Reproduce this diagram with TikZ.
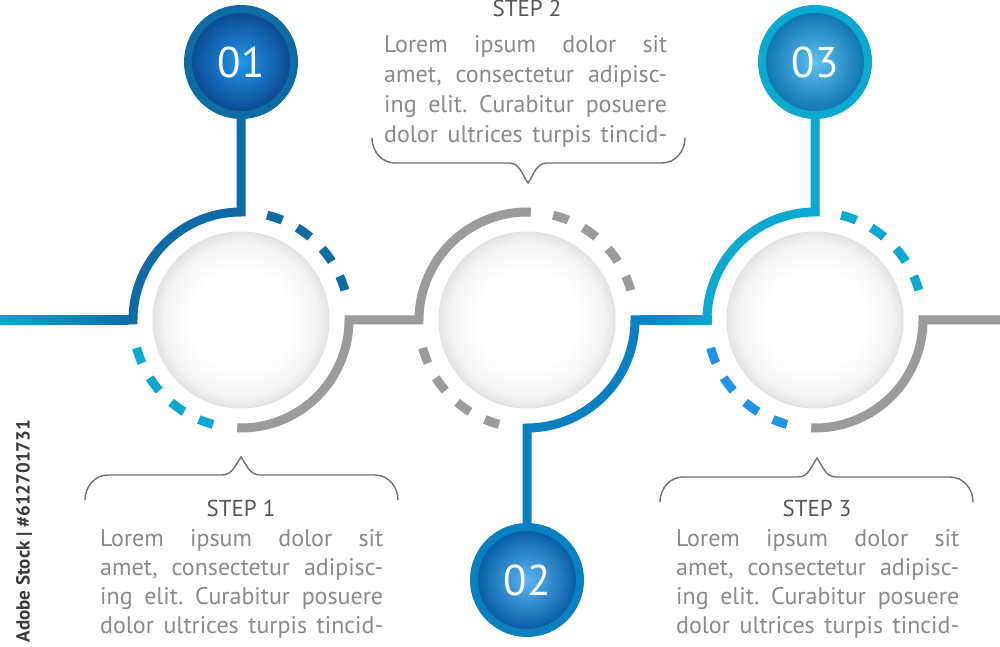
\documentclass[tikz,border=0pt]{standalone}
\usepackage{fontspec}
\setmainfont{PT Sans}
\usetikzlibrary{calc}
\frenchspacing
\definecolor{dkblue}{HTML}{0E6BA3}
\definecolor{cyanc}{HTML}{0BA8D0}
\definecolor{midblue}{HTML}{0A80C0}
\definecolor{brightblue}{HTML}{2192EA}
\definecolor{grayline}{HTML}{9B9B9B}
\definecolor{bracegray}{HTML}{707070}
\definecolor{titlegray}{HTML}{555555}
\definecolor{bodygray}{HTML}{8A8A8A}
\definecolor{wmgray}{HTML}{3A3A3A}
\definecolor{discedge}{HTML}{E2E2E2}
\definecolor{dA}{HTML}{F4F4F4}
\definecolor{dB}{HTML}{E4E4E4}
\definecolor{nAc}{HTML}{2196EE}
\definecolor{nAe}{HTML}{0C4C92}
\definecolor{nBc}{HTML}{5BB5F5}
\definecolor{nBe}{HTML}{0A60A6}
\definecolor{nCc}{HTML}{5EC0F0}
\definecolor{nCe}{HTML}{0F78B0}
\pgfdeclareradialshading{discshade}{\pgfpoint{0bp}{0bp}}{color(0bp)=(white); color(14bp)=(white); color(22bp)=(dA); color(25bp)=(dB); color(50bp)=(dB)}
\pgfdeclareradialshading{numA}{\pgfpoint{0bp}{0bp}}{color(0bp)=(nAc); color(25bp)=(nAe); color(50bp)=(nAe)}
\pgfdeclareradialshading{numB}{\pgfpoint{0bp}{0bp}}{color(0bp)=(nBc); color(25bp)=(nBe); color(50bp)=(nBe)}
\pgfdeclareradialshading{numC}{\pgfpoint{0bp}{0bp}}{color(0bp)=(nCc); color(25bp)=(nCe); color(50bp)=(nCe)}
\newcommand\jline[1]{\makebox[283pt][s]{#1}}
\begin{document}
\begin{tikzpicture}[x=1pt,y=1pt,
  ln/.style={line width=9pt, line join=miter, line cap=butt},
  dsh/.style={line width=9pt, line cap=butt, dash pattern=on 16pt off 16.7pt},
  brace/.style={line width=1.4pt, draw=bracegray, line cap=round},
  title/.style={anchor=base, inner sep=0pt, text=titlegray, font=\fontsize{23}{27}\selectfont},
  body/.style={anchor=base west, inner sep=0pt, text=bodygray, font=\fontsize{24}{27}\selectfont},
  disc/.style={circle, minimum size=176pt, inner sep=0pt, shade, shading=discshade, draw=discedge, line width=1pt},
  numouter/.style={circle, minimum size=114pt, inner sep=0pt},
  numinner/.style={circle, minimum size=98pt, inner sep=0pt, shade, text=white, font=\fontsize{43}{43}\selectfont}
]
\fill[white] (0,0) rectangle (1000,647);
\useasboundingbox (0,0) rectangle (1000,647);

% centres
\coordinate (c1) at (241,327);
\coordinate (c2) at (527,327);
\coordinate (c3) at (815,327);
\coordinate (n1) at (241,585);
\coordinate (n2) at (527,67);
\coordinate (n3) at (815,585);
\coordinate (w) at (0,327);
\coordinate (e) at (1000,327);

% connectors
\draw[ln, draw=dkblue] (w) -- ($(c1)+(-108,0)$) arc[start angle=180, end angle=90, radius=108] -- (n1);
\shade[left color=cyanc, right color=dkblue] (0,322.5) rectangle (128.5,331.5);

\draw[ln, draw=grayline] ($(c1)+(268:108)$) arc[start angle=268, end angle=360, radius=108]
  -- ($(c2)+(-108,0)$) arc[start angle=180, end angle=88, radius=108];

\draw[ln, draw=midblue] (n2) -- ($(c2)+(0,-108)$) arc[start angle=270, end angle=360, radius=108]
  -- ($(c3)+(-103.5,0)$);
\draw[ln, draw=cyanc] ($(c3)+(-108,0)$) arc[start angle=180, end angle=90, radius=108] -- (n3);
\shade[left color=midblue, right color=cyanc] (639.5,322.5) rectangle (711.5,331.5);

\draw[ln, draw=grayline] ($(c3)+(268:108)$) arc[start angle=268, end angle=360, radius=108] -- (e);

% dashed arcs
\draw[dsh, draw=dkblue] ($(c1)+(76:108)$) arc[start angle=76, end angle=16, radius=108];
\draw[dsh, draw=cyanc] ($(c1)+(195:108)$) arc[start angle=195, end angle=255, radius=108];
\draw[dsh, draw=grayline] ($(c2)+(76:108)$) arc[start angle=76, end angle=16, radius=108];
\draw[dsh, draw=grayline] ($(c2)+(195:108)$) arc[start angle=195, end angle=255, radius=108];
\draw[dsh, draw=cyanc] ($(c3)+(76:108)$) arc[start angle=76, end angle=16, radius=108];
\draw[dsh, draw=brightblue] ($(c3)+(195:108)$) arc[start angle=195, end angle=255, radius=108];

% white discs
\node[disc] (d1) at (c1) {};
\node[disc] (d2) at (c2) {};
\node[disc] (d3) at (c3) {};

% number circles
\node[numouter, fill=dkblue] (n1o) at (n1) {};
\node[numinner, shading=numA] (n1i) at (n1) {01};
\node[numouter, fill=midblue] (n2o) at (n2) {};
\node[numinner, shading=numB] (n2i) at (n2) {02};
\node[numouter, fill=cyanc] (n3o) at (n3) {};
\node[numinner, shading=numC] (n3i) at (n3) {03};

% braces
\draw[brace] (85,147) to[out=90,in=180] (108,172) -- (222,172) to[out=0,in=-125] (241,190)
  to[out=-55,in=180] (260,172) -- (375,172) to[out=0,in=90] (398,147);
\draw[brace] (372,509) to[out=-90,in=180] (395,484) -- (509,484) to[out=0,in=125] (528,464)
  to[out=55,in=180] (547,484) -- (662,484) to[out=0,in=-90] (685,509);
\draw[brace] (660,145) to[out=90,in=180] (683,170) -- (798,170) to[out=0,in=-125] (817,189)
  to[out=-55,in=180] (836,170) -- (950,170) to[out=0,in=90] (973,145);

% step 1 text
\node[title] (t1) at (241,130) {STEP 1};
\node[body] (b1a) at (100,100) {\jline{Lorem ipsum dolor sit}};
\node[body] (b1b) at (100,71) {\jline{amet, consectetur adipisc-}};
\node[body] (b1c) at (100,42) {\jline{ing elit. Curabitur posuere}};
\node[body] (b1d) at (100,13) {\jline{dolor ultrices turpis tincid-}};

% step 2 text
\node[title] (t2) at (527,630) {STEP 2};
\node[body] (b2a) at (384,594) {\jline{Lorem ipsum dolor sit}};
\node[body] (b2b) at (384,564) {\jline{amet, consectetur adipisc-}};
\node[body] (b2c) at (384,534) {\jline{ing elit. Curabitur posuere}};
\node[body] (b2d) at (384,504) {\jline{dolor ultrices turpis tincid-}};

% step 3 text
\node[title] (t3) at (817,130) {STEP 3};
\node[body] (b3a) at (676,100) {\jline{Lorem ipsum dolor sit}};
\node[body] (b3b) at (676,71) {\jline{amet, consectetur adipisc-}};
\node[body] (b3c) at (676,42) {\jline{ing elit. Curabitur posuere}};
\node[body] (b3d) at (676,13) {\jline{dolor ultrices turpis tincid-}};

% side label
\node[rotate=90, inner sep=0pt, text=wmgray, font=\bfseries\fontsize{19}{19}\selectfont] (wm) at (24,116) {Adobe Stock | \#612701731};
\end{tikzpicture}
\end{document}
